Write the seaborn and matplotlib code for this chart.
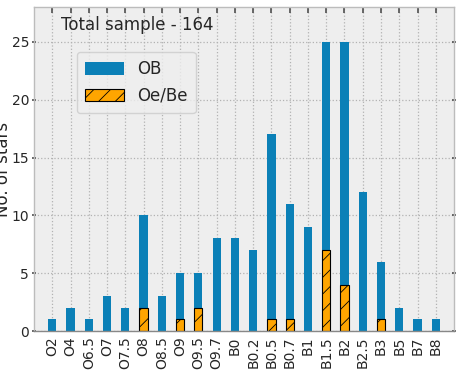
import matplotlib
matplotlib.use("Agg")
import matplotlib.pyplot as plt
import matplotlib.patches as mpatches
import seaborn as sns
import pandas as pd

categories = ["O2", "O4", "O6.5", "O7", "O7.5", "O8", "O8.5", "O9", "O9.5", "O9.7",
              "B0", "B0.2", "B0.5", "B0.7", "B1", "B1.5", "B2", "B2.5", "B3", "B5", "B7", "B8"]
ob_counts = [1, 2, 1, 3, 2, 10, 3, 5, 5, 8, 8, 7, 17, 11, 9, 25, 25, 12, 6, 2, 1, 1]
oebe_types = ["O8", "O9", "O9.5", "B0.5", "B0.7", "B1.5", "B2", "B3"]
oebe_counts = [2, 1, 2, 1, 1, 7, 4, 1]
y_ticks = [0, 5, 10, 15, 20, 25]

blue = "#0b80b7"
orange = "#ffa500"

sns.set_theme(style="whitegrid")
plt.rcParams["font.family"] = ["DejaVu Sans"]
plt.rcParams["hatch.linewidth"] = 0.6

fig = plt.figure(figsize=(4.74, 3.75), dpi=100)
ax = fig.add_axes([0.0717, 0.1173, 0.8863, 0.8637])
ax.set_facecolor("#eeeeee")

df_ob = pd.DataFrame({"type": categories, "n": ob_counts})
df_be = pd.DataFrame({"type": oebe_types, "n": oebe_counts})

sns.barplot(data=df_ob, x="type", y="n", order=categories, color=blue,
            saturation=1, width=0.45, linewidth=0, ax=ax)
n_ob = len(ax.patches)
sns.barplot(data=df_be, x="type", y="n", order=categories, color=orange,
            saturation=1, width=0.45, linewidth=0.8, edgecolor="black", ax=ax)
for p in ax.patches[n_ob:]:
    p.set_hatch("//")
    p.set_edgecolor("black")
    p.set_linewidth(0.8)

ax.set_xlim(-1, len(categories))
ax.set_ylim(0, 28)
ax.set_yticks(y_ticks)
ax.set_xlabel("")
ax.set_ylabel("No. of stars", fontsize=12)
ax.yaxis.set_label_coords(-0.053, 0.5)

ax.grid(True, which="major", axis="both", linestyle=":", color="#b2b2b2", linewidth=0.9)
ax.set_axisbelow(True)
for s in ax.spines.values():
    s.set_visible(True)
    s.set_color("#bcbcbc")
    s.set_linewidth(1.0)
ax.spines["bottom"].set_color("#888888")

ax.tick_params(axis="x", which="both", labelsize=10, rotation=90, direction="in",
               top=True, bottom=False, length=4, color="#555555", pad=4)
ax.tick_params(axis="y", which="both", labelsize=10, direction="out",
               left=True, right=True, length=3, color="#555555", pad=2)
ax.tick_params(axis="y", right=True, direction="inout")

ax.text(0.064, 0.944, "Total sample - 164", transform=ax.transAxes,
        fontsize=12, ha="left", va="center")

h1 = mpatches.Patch(facecolor=blue, edgecolor="none", label="OB")
h2 = mpatches.Patch(facecolor=orange, edgecolor="black", hatch="//",
                    linewidth=0.8, label="Oe/Be")
leg = ax.legend(handles=[h1, h2], loc="upper left", bbox_to_anchor=(0.102, 0.861),
                borderaxespad=0, fontsize=12, frameon=True, fancybox=True,
                handlelength=2.3, handleheight=0.8, borderpad=0.5, labelspacing=0.5)
leg.get_frame().set_facecolor("#eeeeee")
leg.get_frame().set_edgecolor("#cccccc")

fig.savefig("out.png", dpi=100)
